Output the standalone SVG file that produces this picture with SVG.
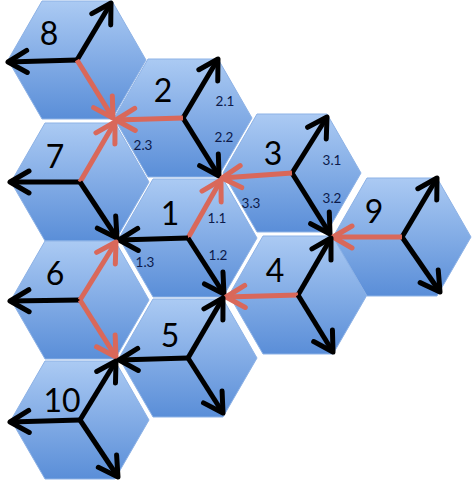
<svg xmlns="http://www.w3.org/2000/svg" width="474" height="491" viewBox="0 0 474 491">
<defs>
<linearGradient id="hexfill" x1="0" y1="0" x2="0" y2="1">
<stop offset="0" stop-color="#abcaf3"/>
<stop offset="1" stop-color="#5a8ed8"/>
</linearGradient>
<polygon id="hex" points="-69,0 -35,-59 35,-59 69,0 35,59 -35,59"/>
<marker id="hb" viewBox="-25 -15 30 30" refX="0" refY="0" markerWidth="30" markerHeight="30" markerUnits="userSpaceOnUse" orient="auto">
<path d="M-19,-11 L0,0 L-19,11" fill="none" stroke="#000" stroke-width="5" stroke-linecap="round" stroke-linejoin="round"/>
</marker>
<marker id="hr" viewBox="-25 -15 30 30" refX="0" refY="0" markerWidth="30" markerHeight="30" markerUnits="userSpaceOnUse" orient="auto">
<path d="M-19,-11 L0,0 L-19,11" fill="none" stroke="#d9685a" stroke-width="5" stroke-linecap="round" stroke-linejoin="round"/>
</marker>
</defs>
<style>
.hx{fill:url(#hexfill);stroke:#8db2e6;stroke-width:1}
.big{font-family:Lato,"Liberation Sans",sans-serif;font-size:32px;fill:#000;text-anchor:middle}
.sm{font-family:Lato,"Liberation Sans",sans-serif;font-size:13.5px;fill:#0c1a4a;text-anchor:middle}
.b{stroke:#000;stroke-width:5;fill:none;marker-end:url(#hb)}
.r{stroke:#d9685a;stroke-width:5;fill:none;marker-end:url(#hr)}
</style>
<rect width="474" height="491" fill="#fff"/>
<g id="hexes">
<g id="node-8"><use href="#hex" class="hx" x="77" y="60"/></g>
<g id="node-7"><use href="#hex" class="hx" x="80" y="182"/></g>
<g id="node-6"><use href="#hex" class="hx" x="80" y="300"/></g>
<g id="node-10"><use href="#hex" class="hx" x="80" y="420"/></g>
<g id="node-2"><use href="#hex" class="hx" x="183" y="118"/></g>
<g id="node-1"><use href="#hex" class="hx" x="188" y="238"/></g>
<g id="node-5"><use href="#hex" class="hx" x="188" y="358"/></g>
<g id="node-3"><use href="#hex" class="hx" x="292" y="173"/></g>
<g id="node-4"><use href="#hex" class="hx" x="298" y="295"/></g>
<g id="node-9"><use href="#hex" class="hx" x="402" y="237"/></g>
</g>
<g id="connectors">
<line class="b" x1="77" y1="60" x2="8" y2="62"/>
<line class="b" x1="77" y1="60" x2="111" y2="3"/>
<line class="r" x1="77" y1="60" x2="113" y2="118"/>
<line class="b" x1="183" y1="118" x2="218" y2="59"/>
<line class="b" x1="183" y1="118" x2="219" y2="176"/>
<line class="r" x1="183" y1="118" x2="116" y2="120"/>
<line class="b" x1="292" y1="173" x2="327" y2="117"/>
<line class="b" x1="292" y1="173" x2="330" y2="234"/>
<line class="r" x1="292" y1="173" x2="222" y2="178"/>
<line class="b" x1="402" y1="237" x2="437" y2="178"/>
<line class="b" x1="402" y1="237" x2="440" y2="292"/>
<line class="r" x1="402" y1="237" x2="333" y2="237"/>
<line class="b" x1="80" y1="182" x2="10" y2="182"/>
<line class="r" x1="80" y1="182" x2="115" y2="122"/>
<line class="b" x1="80" y1="182" x2="117" y2="238"/>
<line class="r" x1="188" y1="238" x2="221" y2="180"/>
<line class="b" x1="188" y1="238" x2="119" y2="240"/>
<line class="b" x1="188" y1="238" x2="224" y2="294"/>
<line class="b" x1="80" y1="300" x2="10" y2="301"/>
<line class="r" x1="80" y1="300" x2="116" y2="242"/>
<line class="r" x1="80" y1="300" x2="116" y2="357"/>
<line class="b" x1="298" y1="295" x2="331" y2="238"/>
<line class="r" x1="298" y1="295" x2="226" y2="297"/>
<line class="b" x1="298" y1="295" x2="333" y2="352"/>
<line class="b" x1="188" y1="358" x2="223" y2="298"/>
<line class="b" x1="188" y1="358" x2="119" y2="360"/>
<line class="b" x1="188" y1="358" x2="223" y2="413"/>
<line class="b" x1="80" y1="420" x2="10" y2="422"/>
<line class="b" x1="80" y1="420" x2="116" y2="361"/>
<line class="b" x1="80" y1="420" x2="118" y2="477"/>
</g>
<g id="labels">
<text class="big" x="49" y="45">8</text>
<text class="big" x="163" y="102">2</text>
<text class="big" x="273" y="165">3</text>
<text class="big" x="374" y="223">9</text>
<text class="big" x="170" y="225">1</text>
<text class="big" x="55" y="168">7</text>
<text class="big" x="55" y="285">6</text>
<text class="big" x="170" y="347">5</text>
<text class="big" x="275" y="282">4</text>
<text class="big" x="62" y="412">10</text>
<text class="sm" x="225" y="106">2.1</text>
<text class="sm" x="224" y="142">2.2</text>
<text class="sm" x="143" y="150">2.3</text>
<text class="sm" x="332" y="165">3.1</text>
<text class="sm" x="332" y="203">3.2</text>
<text class="sm" x="251" y="208">3.3</text>
<text class="sm" x="217" y="223">1.1</text>
<text class="sm" x="218" y="260">1.2</text>
<text class="sm" x="145" y="267">1.3</text>
</g>
</svg>
